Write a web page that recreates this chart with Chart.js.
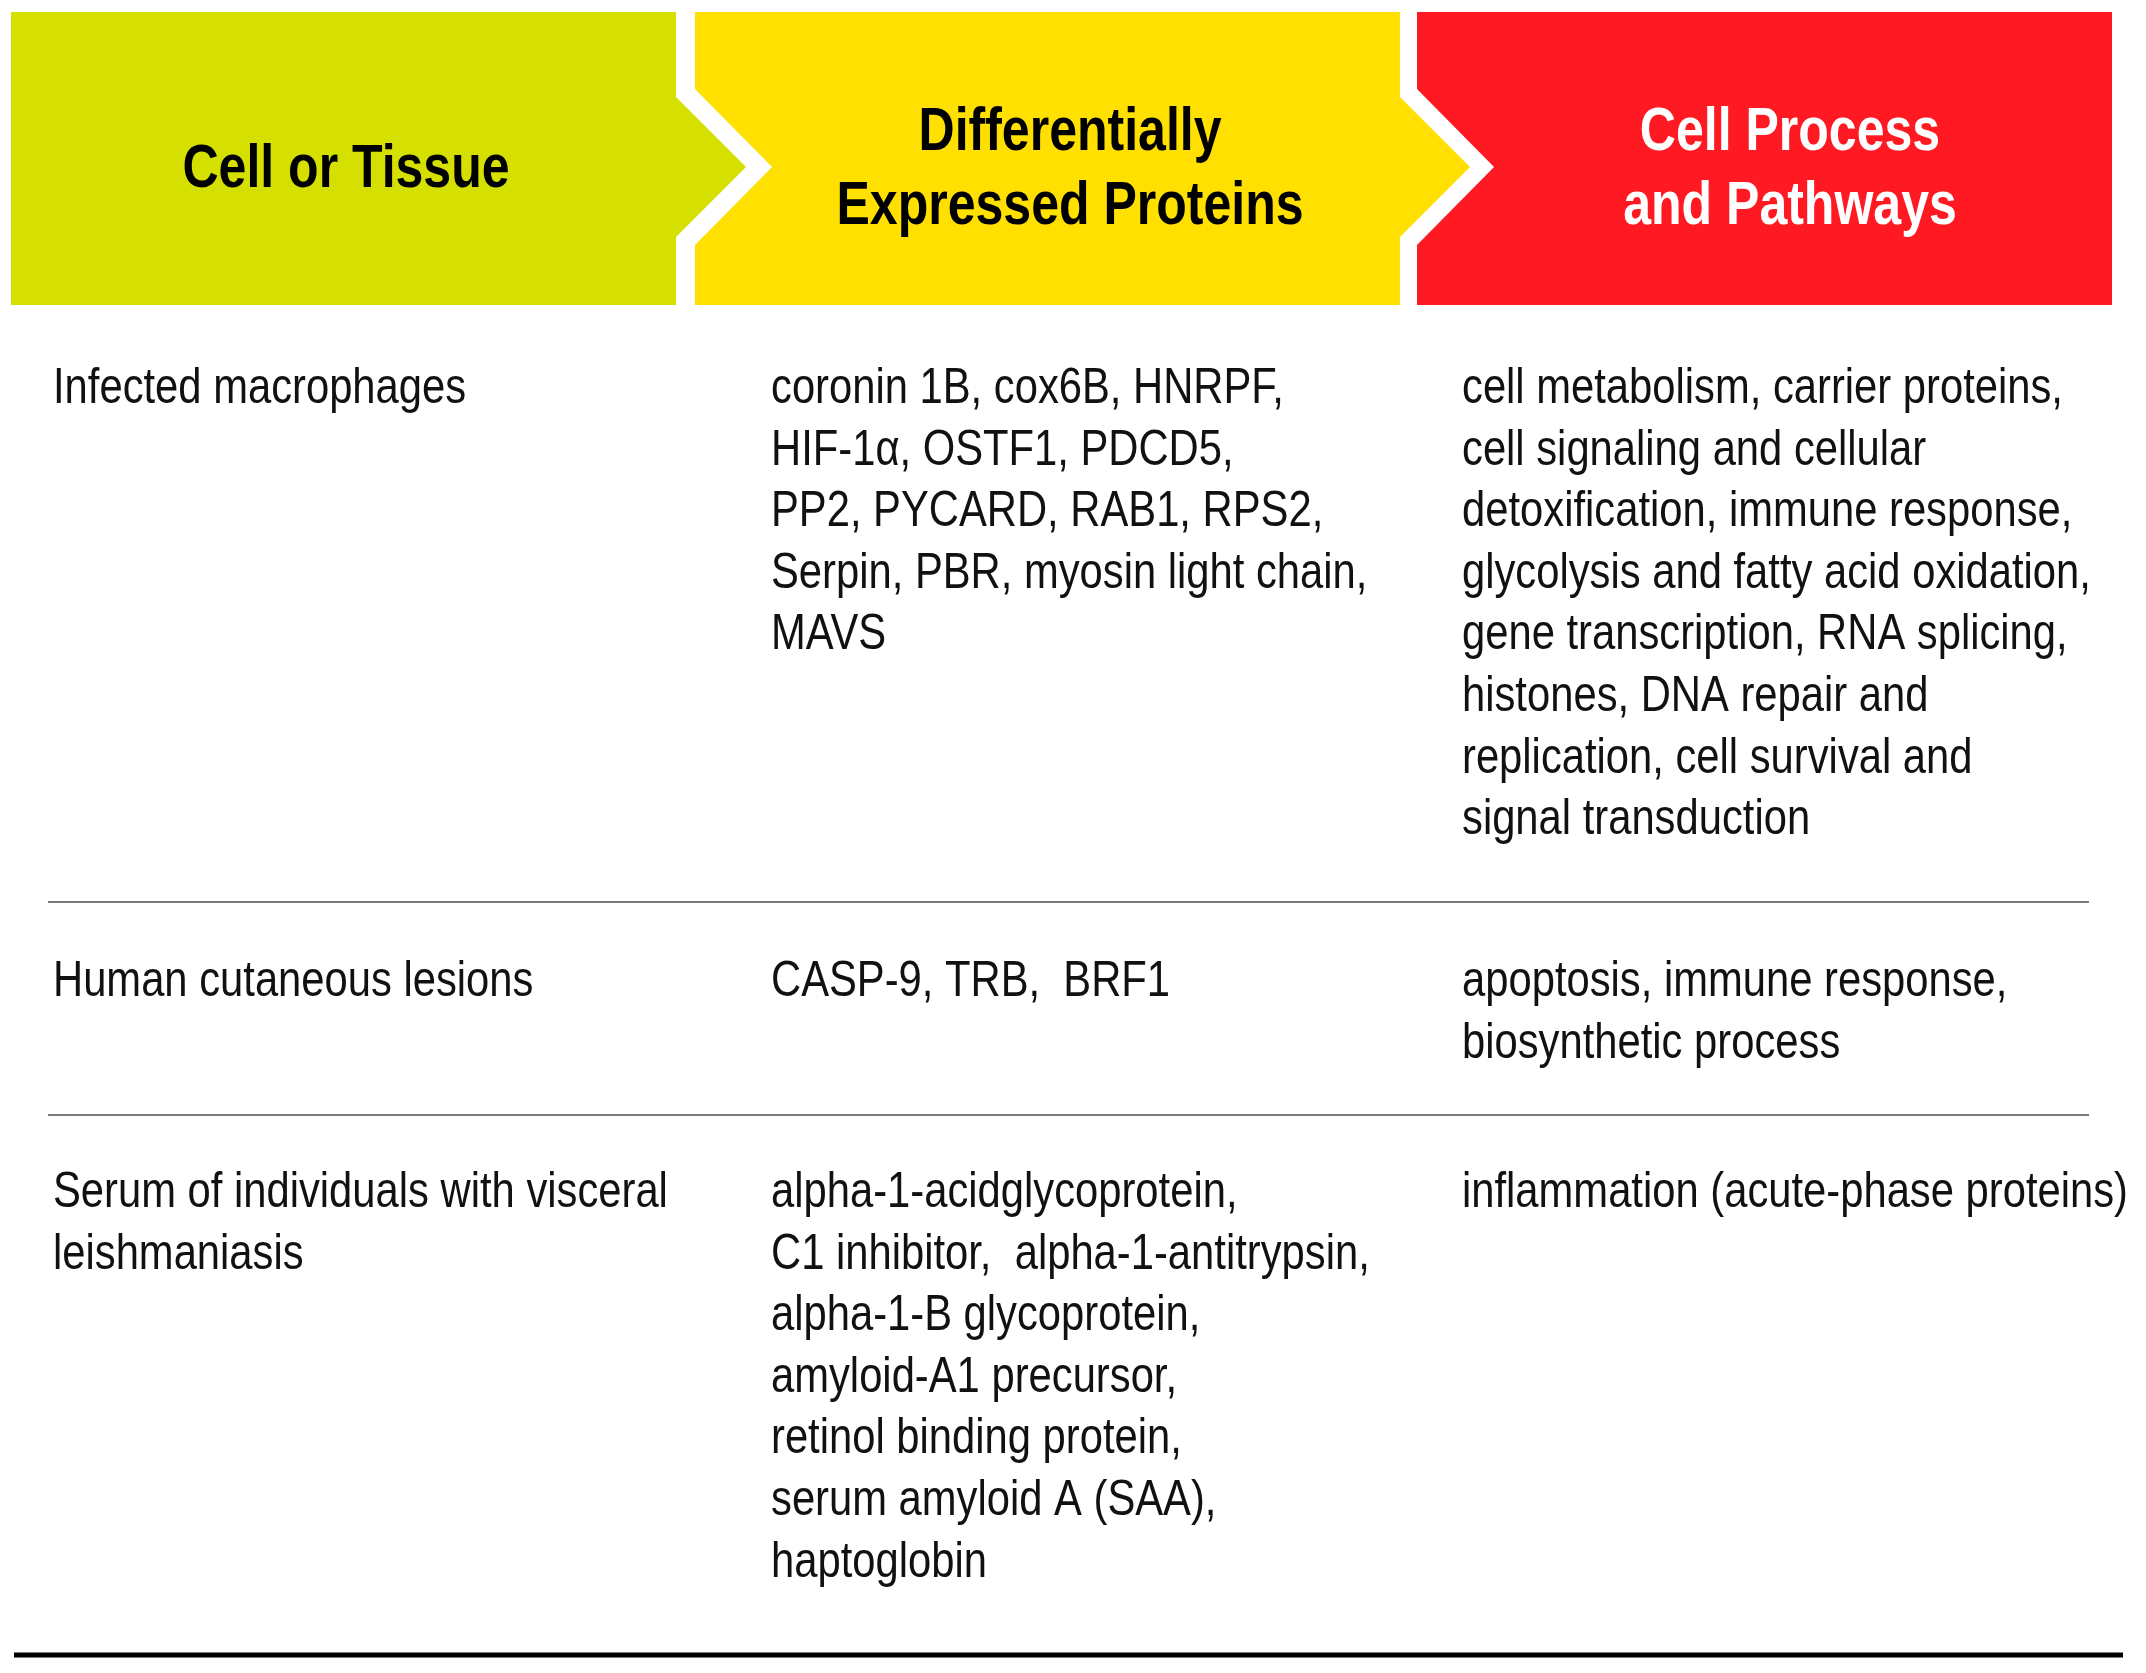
<!DOCTYPE html>
<html>
<head>
<meta charset="utf-8">
<title>Proteins in leishmaniasis</title>
<script src="https://cdn.jsdelivr.net/npm/chart.js@4.4.1/dist/chart.umd.min.js"></script>
<style>
    html, body { margin: 0; padding: 0; background: #ffffff; }
    #tableChart { display: block; }
</style>
</head>
<body>
<canvas id="tableChart" width="2146" height="1673"></canvas>
<script>
// Header texts (one entry per column, split into lines)
const headerLabels = [
    ['Cell or Tissue'],
    ['Differentially', 'Expressed Proteins'],
    ['Cell Process', 'and Pathways']
];

// Table body, one array per column
const cellOrTissue = [
    ['Infected macrophages'],
    ['Human cutaneous lesions'],
    ['Serum of individuals with visceral', 'leishmaniasis']
];
const expressedProteins = [
    ['coronin 1B, cox6B, HNRPF,', 'HIF-1\u03b1, OSTF1, PDCD5,', 'PP2, PYCARD, RAB1, RPS2,',
     'Serpin, PBR, myosin light chain,', 'MAVS'],
    ['CASP-9, TRB,  BRF1'],
    ['alpha-1-acidglycoprotein,', 'C1 inhibitor,  alpha-1-antitrypsin,', 'alpha-1-B glycoprotein,',
     'amyloid-A1 precursor,', 'retinol binding protein,', 'serum amyloid A (SAA),', 'haptoglobin']
];
const processesPathways = [
    ['cell metabolism, carrier proteins,', 'cell signaling and cellular', 'detoxification, immune response,',
     'glycolysis and fatty acid oxidation,', 'gene transcription, RNA splicing,', 'histones, DNA repair and',
     'replication, cell survival and', 'signal transduction'],
    ['apoptosis, immune response,', 'biosynthetic process'],
    ['inflammation (acute-phase proteins)']
];

document.addEventListener('DOMContentLoaded', function() {
    // Layout in picture units (the axes run 0..2146 and 0..1673, y downwards)
    const W = 2146, H = 1673;
    const headerTop = 12, headerBottom = 305, tipY = 167;
    const headerColors = ['#d6e000', '#ffe000', '#ff1a23'];
    const headerTextColors = ['#000000', '#000000', '#ffffff'];
    const headerCenters = [346, 1070, 1790];
    const headerBaselines = [[187], [150, 224], [150, 224]];

    const columnX = [53, 771, 1462];
    const rowBaselines = [403, 996, 1207];
    const lineStep = 61.6;
    const separatorsY = [902, 1115];

    function arrowBlock(left, right, notch) {
        // block with a pointed right side and, optionally, a notch on the left
        const pts = [{x: left, y: headerTop}];
        pts.push({x: right, y: headerTop}, {x: right, y: tipY - 70}, {x: right + 70, y: tipY},
                 {x: right, y: tipY + 70}, {x: right, y: headerBottom});
        pts.push({x: left, y: headerBottom});
        if (notch) {
            pts.push({x: left, y: tipY + 78}, {x: left + 77, y: tipY}, {x: left, y: tipY - 78});
        }
        return pts;
    }

    const redBlock = [
        {x: 1417, y: headerTop}, {x: 2112, y: headerTop}, {x: 2112, y: headerBottom},
        {x: 1417, y: headerBottom}, {x: 1417, y: tipY + 78}, {x: 1494, y: tipY}, {x: 1417, y: tipY - 78}
    ];

    const shapes = [arrowBlock(11, 676, false), arrowBlock(695, 1400, true), redBlock];

    const datasets = shapes.map((pts, i) => ({
        data: pts,
        showLine: true,
        fill: 'shape',
        backgroundColor: headerColors[i],
        borderWidth: 0,
        pointRadius: 0
    }));

    separatorsY.forEach(y => {
        datasets.push({
            data: [{x: 48, y: y}, {x: 2089, y: y}],
            showLine: true,
            borderColor: '#7a7a7a',
            borderWidth: 2,
            pointRadius: 0
        });
    });
    datasets.push({
        data: [{x: 14, y: 1655}, {x: 2123, y: 1655}],
        showLine: true,
        borderColor: '#000000',
        borderWidth: 5,
        pointRadius: 0
    });

    // Arial-like glyphs, squeezed to the narrow cut used in the figure
    const family = '"Liberation Sans", Arial, sans-serif';

    function drawText(ctx, text, px, py, align, squeeze) {
        ctx.save();
        ctx.translate(px, py);
        ctx.scale(squeeze, 1);
        ctx.textAlign = align;
        ctx.fillText(text, 0, 0);
        ctx.restore();
    }

    const textPlugin = {
        id: 'tableText',
        afterDatasetsDraw(chart) {
            const ctx = chart.ctx;
            const xs = chart.scales.x, ys = chart.scales.y;
            ctx.save();
            ctx.textBaseline = 'alphabetic';

            ctx.font = 'bold 61px ' + family;
            headerLabels.forEach((lines, i) => {
                ctx.fillStyle = headerTextColors[i];
                lines.forEach((line, j) => {
                    drawText(ctx, line, xs.getPixelForValue(headerCenters[i]),
                             ys.getPixelForValue(headerBaselines[i][j]), 'center', 0.82);
                });
            });

            ctx.font = '50px ' + family;
            ctx.fillStyle = '#111111';
            [cellOrTissue, expressedProteins, processesPathways].forEach((column, c) => {
                column.forEach((lines, r) => {
                    lines.forEach((line, j) => {
                        drawText(ctx, line, xs.getPixelForValue(columnX[c]),
                                 ys.getPixelForValue(rowBaselines[r] + j * lineStep), 'left', 0.835);
                    });
                });
            });
            ctx.restore();
        }
    };

    new Chart(document.getElementById('tableChart'), {
        type: 'scatter',
        data: { datasets: datasets },
        options: {
            responsive: false,
            animation: false,
            devicePixelRatio: 1,
            layout: { padding: 0 },
            plugins: {
                legend: { display: false },
                tooltip: { enabled: false }
            },
            scales: {
                x: { type: 'linear', min: 0, max: W, display: false },
                y: { type: 'linear', min: 0, max: H, reverse: true, display: false }
            }
        },
        plugins: [textPlugin]
    });
});
</script>
</body>
</html>
